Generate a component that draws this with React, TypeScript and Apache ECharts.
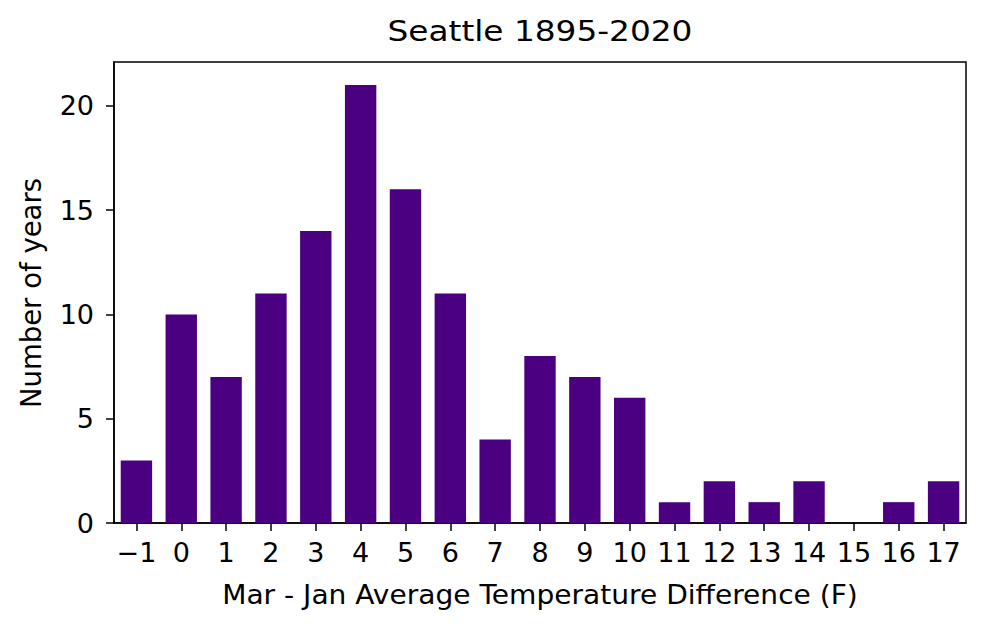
import React, { useEffect, useRef } from "react";
import * as echarts from "echarts";

const categories = ["\u22121", "0", "1", "2", "3", "4", "5", "6", "7", "8", "9", "10", "11", "12", "13", "14", "15", "16", "17"];
const counts = [3, 10, 7, 11, 14, 21, 16, 11, 4, 8, 7, 6, 1, 2, 1, 2, 0, 1, 2];
const yTicks = { min: 0, max: 22.1, interval: 5 };
const titleText = "Seattle 1895-2020";
const xName = "Mar - Jan Average Temperature Difference (F)";
const yName = "Number of years";

const FONT = "DejaVu Sans";

export default function App() {
  const ref = useRef<HTMLDivElement>(null);
  useEffect(() => {
    document.body.style.margin = "0";
    const chart = echarts.init(ref.current!, null, { renderer: "svg" });
    chart.setOption({
      animation: false,
      backgroundColor: "#ffffff",
      graphic: [
        {
          type: "text",
          x: 540,
          y: 31,
          scaleX: 1.17,
          style: {
            text: titleText,
            fontFamily: FONT,
            fontSize: 28,
            fill: "#000",
            textAlign: "center",
            textVerticalAlign: "middle",
          },
        },
        {
          type: "text",
          x: 540,
          y: 594,
          scaleX: 1.04,
          style: {
            text: xName,
            fontFamily: FONT,
            fontSize: 27,
            fill: "#000",
            textAlign: "center",
            textVerticalAlign: "middle",
          },
        },
        {
          type: "text",
          x: 31,
          y: 293,
          rotation: Math.PI / 2,
          scaleY: 1.04,
          style: {
            text: yName,
            fontFamily: FONT,
            fontSize: 27.5,
            fill: "#000",
            textAlign: "center",
            textVerticalAlign: "middle",
          },
        },
      ],
      grid: {
        left: 114,
        right: 20,
        top: 62,
        bottom: 108,
        show: true,
        borderColor: "#000",
        borderWidth: 1.5,
        backgroundColor: "transparent",
      },
      xAxis: {
        type: "category",
        data: categories,
        boundaryGap: true,
        axisLine: { show: true, lineStyle: { color: "#000", width: 1.5 } },
        axisTick: { show: true, alignWithLabel: true, length: 8, lineStyle: { color: "#000", width: 1.5 } },
        axisLabel: { fontFamily: FONT, fontSize: 27, color: "#000", margin: 16, interval: 0 },
        splitLine: { show: false },
      },
      yAxis: {
        type: "value",
        min: yTicks.min,
        max: yTicks.max,
        interval: yTicks.interval,
        axisLine: { show: true, lineStyle: { color: "#000", width: 1.5 } },
        axisTick: { show: true, length: 8, lineStyle: { color: "#000", width: 1.5 } },
        axisLabel: { fontFamily: FONT, fontSize: 27, color: "#000", margin: 20, showMaxLabel: false },
        splitLine: { show: false },
      },
      series: [
        {
          type: "bar",
          data: counts,
          barCategoryGap: "30%",
          itemStyle: { color: "#4b0082" },
        },
      ],
    });
    return () => chart.dispose();
  }, []);
  return <div ref={ref} style={{ width: 986, height: 631 }} />;
}
